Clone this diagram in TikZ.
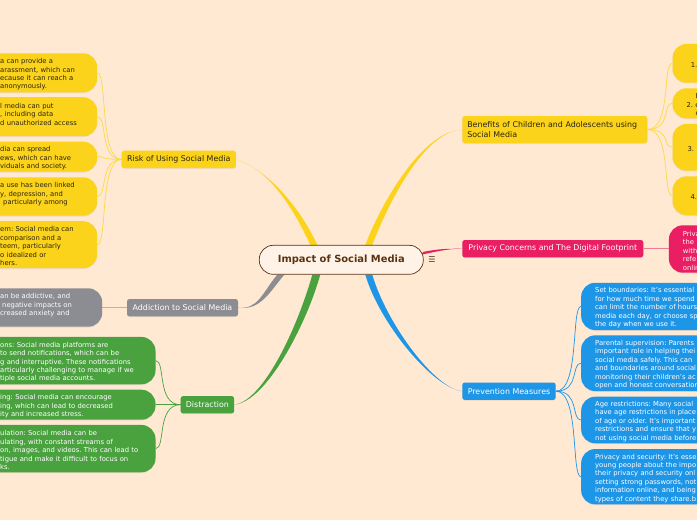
\documentclass[tikz,border=0pt]{standalone}
\usepackage{fontspec}
\setmainfont{DejaVu Sans}
\usepackage{tikz}
\usetikzlibrary{shadows,backgrounds}

\definecolor{paper}{HTML}{FFE9D3}
\definecolor{sunny}{HTML}{FBD31B}
\definecolor{raspberry}{HTML}{E91E63}
\definecolor{sky}{HTML}{1E96E8}
\definecolor{leafgreen}{HTML}{4AA23F}
\definecolor{stone}{HTML}{8C8D92}
\definecolor{bark}{HTML}{5C3310}
\definecolor{ink}{HTML}{2B2410}

\tikzset{
  branch/.style={rounded corners=2.5pt, font=\fontsize{7.9}{10}\selectfont, align=left, inner xsep=5pt, inner ysep=0pt,
    drop shadow={shadow xshift=0pt, shadow yshift=-0.6pt, opacity=0.2}},
  leaf/.style={rounded corners=14pt, font=\fontsize{6.8}{8.45}\selectfont\frenchspacing, align=left, anchor=west, inner ysep=0pt,
    inner xsep=14pt, execute at begin node={\rule{0pt}{8.3pt}},
    drop shadow={shadow xshift=0pt, shadow yshift=-0.8pt, opacity=0.15}},
  rightleaf/.style={leaf, text width=130pt},
  twig/.style={line width=0.7pt},
}

\begin{document}
\begin{tikzpicture}[x=1pt, y=-1pt]
  \useasboundingbox (0, 0) rectangle (697, 520);

  % main topic
  \node[draw=bark, line width=0.7pt, fill=paper!55!white, rounded corners=14pt, minimum width=164pt, minimum height=29pt,
    font=\fontsize{9.9}{12}\selectfont\bfseries, text=bark] (topic) at (341.3, 259.8) {Impact of Social Media};
  \node[font=\fontsize{8}{10}\selectfont, text=bark] (menu) at (432, 260) {☰};

  % branches
  \node[branch, fill=sunny, text=ink, minimum width=114.3pt, minimum height=17.4pt] (risk) at (178.8, 159.4) {Risk of Using Social Media};
  \node[branch, fill=stone, text=white, minimum width=111pt, minimum height=17.4pt] (addict) at (182.5, 307.7) {Addiction to Social Media};
  \node[branch, fill=leafgreen, text=white, minimum width=53.4pt, minimum height=17.4pt] (distract) at (207.4, 404.7) {Distraction};
  \node[branch, fill=sunny, text=ink, text width=175pt, minimum width=185pt, minimum height=27pt] (benefit) at (554.8, 129.5) {Benefits of Children and Adolescents using Social Media};
  \node[branch, fill=raspberry, text=white, minimum width=181pt, minimum height=17.4pt] (privacy) at (552.8, 248.7) {Privacy Concerns and The Digital Footprint};
  \node[branch, fill=sky, text=white, minimum width=93.4pt, minimum height=17.4pt] (prevent) at (509, 391.2) {Prevention Measures};

  % left leaves
  \node[leaf, fill=sunny, text=ink, text width=83pt, minimum height=39pt] (risk1) at (-14, 72.8) {a can provide a\\arassment, which can\\ecause it can reach a\\anonymously.};
  \node[leaf, fill=sunny, text=ink, text width=83pt, minimum height=39pt] (risk2) at (-14, 116.7) {l media can put\\, including data\\d unauthorized access\\\mbox{}};
  \node[leaf, fill=sunny, text=ink, text width=83pt, minimum height=30pt] (risk3) at (-14, 156.7) {dia can spread\\ews, which can have\\viduals and society.};
  \node[leaf, fill=sunny, text=ink, text width=83pt, minimum height=38.4pt] (risk4) at (-14, 196.5) {a use has been linked\\y, depression, and\\\hspace*{3pt}particularly among\\\mbox{}};
  \node[leaf, fill=sunny, text=ink, text width=83pt, minimum height=47pt] (risk5) at (-14, 244.7) {em: Social media can\\comparison and a\\teem, particularly\\o idealized or\\hers.};
  \node[leaf, fill=stone, text=white, text width=88pt, minimum height=38.4pt] (addict1) at (-14, 307.5) {an be addictive, and\\\hspace*{2pt}negative impacts on\\creased anxiety and\\\mbox{}};
  \node[leaf, fill=leafgreen, text=white, text width=141.3pt, minimum height=47.3pt] (distract1) at (-14, 360.6) {ons: Social media platforms are\\to send notifications, which can be\\g and interruptive. These notifications\\articularly challenging to manage if we\\tiple social media accounts.};
  \node[leaf, fill=leafgreen, text=white, text width=141.3pt, minimum height=30pt] (distract2) at (-14, 404.7) {ing: Social media can encourage\\ing, which can lead to decreased\\ity and increased stress.};
  \node[leaf, fill=leafgreen, text=white, text width=141.3pt, minimum height=47.3pt] (distract3) at (-14, 448.6) {ulation: Social media can be\\ulating, with constant streams of\\on, images, and videos. This can lead to\\tigue and make it difficult to focus on\\ks.};

  % right leaves
  \node[rightleaf, fill=sunny, text=ink, minimum height=38.7pt] (benefit1) at (672.3, 63.3) {\hspace*{4.4pt}1.};
  \node[rightleaf, fill=sunny, text=ink, minimum height=30pt] (benefit2) at (672.3, 103.3) {\hspace*{9pt}E\\2. e\\\hspace*{9pt}e};
  \node[rightleaf, fill=sunny, text=ink, minimum height=46.7pt] (benefit3) at (672.3, 147.3) {\hspace*{1pt}3.};
  \node[rightleaf, fill=sunny, text=ink, minimum height=38.7pt] (benefit4) at (672.3, 195.7) {\hspace*{4pt}4.};
  \node[rightleaf, fill=raspberry, text=white, minimum height=47.4pt] (privacy1) at (668.7, 249) {Priva\\the\\with\\refe\\onlin};
  \node[rightleaf, fill=sky, text=white, minimum height=47.3pt] (prevent1) at (581, 306.4) {Set boundaries: It's essential\\for how much time we spend\\can limit the number of hours\\media each day, or choose sp\\the day when we use it.};
  \node[rightleaf, fill=sky, text=white, minimum height=55.7pt] (prevent2) at (581, 363.2) {Parental supervision: Parents\\important role in helping thei\\social media safely. This can\\and boundaries around social\\monitoring their children's ac\\open and honest conversation};
  \node[rightleaf, fill=sky, text=white, minimum height=46.6pt] (prevent3) at (581, 420) {Age restrictions: Many social\\have age restrictions in place\\of age or older. It's important\\restrictions and ensure that y\\not using social media before};
  \node[rightleaf, fill=sky, text=white, minimum height=55.3pt] (prevent4) at (581, 476.7) {Privacy and security: It's esse\\young people about the impo\\their privacy and security onl\\setting strong passwords, not\\information online, and being\\types of content they share.b};

  \begin{scope}[on background layer]
    \fill[paper] (0, 0) rectangle (697, 520);

    % thick links from the topic
    \fill[sunny] ([xshift=-31pt]topic.north) .. controls +(-15, -33) and +(34, 10) .. (risk.east)
      .. controls +(34, 11) and +(-15, -33) .. ([xshift=-24pt]topic.north) -- cycle;
    \fill[sunny] ([xshift=24pt]topic.north) .. controls +(16, -42) and +(-40, 2) .. (benefit.west)
      .. controls +(-38, 2) and +(16, -42) .. ([xshift=31pt]topic.north) -- cycle;
    \fill[stone] ([xshift=-64pt]topic.south) .. controls +(-15, 18) and +(20, 2) .. (addict.east)
      .. controls +(22, 3) and +(-15, 18) .. ([xshift=-57pt]topic.south) -- cycle;
    \fill[leafgreen] ([xshift=-29pt]topic.south) .. controls +(-14, 50) and +(30, -4) .. (distract.east)
      .. controls +(32, -3) and +(-14, 50) .. ([xshift=-21pt]topic.south) -- cycle;
    \fill[sky] ([xshift=24pt]topic.south) .. controls +(14, 48) and +(-30, -4) .. (prevent.west)
      .. controls +(-28, -3) and +(14, 48) .. ([xshift=31pt]topic.south) -- cycle;
    \fill[raspberry] ([yshift=8pt]topic.east) .. controls +(15, -3) and +(-15, 0) .. (privacy.west)
      .. controls +(-15, 0) and +(15, -3) .. ([xshift=-3pt, yshift=5pt]topic.east) -- cycle;

    % thin links to the leaves
    \foreach \n in {1,...,5}
      \draw[twig, sunny!75!paper] (risk.west) .. controls +(-22, 0) and +(10, 0) .. (risk\n.east);
    \draw[line width=1pt, stone!60!paper] (addict.west) -- (addict1.east |- addict.west);
    \foreach \n in {1,...,3}
      \draw[twig, leafgreen] (distract.west) .. controls +(-24, 0) and +(10, 0) .. (distract\n.east);
    \foreach \n in {1,...,4}
      \draw[twig, sunny!75!paper] (benefit.east) .. controls +(24, 0) and +(-10, 0) .. (benefit\n.west);
    \draw[line width=1pt, raspberry!55!paper] (privacy.east) -- (privacy1.west |- privacy.east);
    \foreach \n in {1,...,4}
      \draw[twig, sky] (prevent.east) .. controls +(24, 0) and +(-10, 0) .. (prevent\n.west);
  \end{scope}
\end{tikzpicture}
\end{document}
